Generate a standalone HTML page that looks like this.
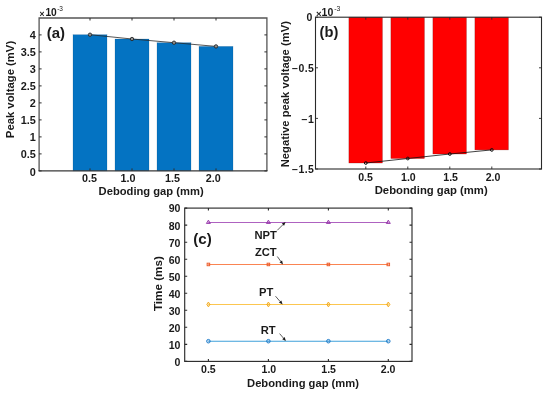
<!DOCTYPE html>
<html><head><meta charset="utf-8"><style>
html,body{margin:0;padding:0;background:#fff;width:550px;height:395px;overflow:hidden}
svg{display:block;filter:blur(0.3px)}
text{font-family:"Liberation Sans",Arial,sans-serif}
</style></head><body>
<svg width="550" height="395" viewBox="0 0 550 395">
<rect x="73" y="34.7" width="34" height="136.2" fill="#0473C2" stroke="#003a70" stroke-opacity="0.35" stroke-width="0.5"/>
<rect x="115" y="39.0" width="34" height="131.9" fill="#0473C2" stroke="#003a70" stroke-opacity="0.35" stroke-width="0.5"/>
<rect x="157" y="42.7" width="34" height="128.2" fill="#0473C2" stroke="#003a70" stroke-opacity="0.35" stroke-width="0.5"/>
<rect x="199" y="46.4" width="34" height="124.5" fill="#0473C2" stroke="#003a70" stroke-opacity="0.35" stroke-width="0.5"/>
<polyline points="90,34.7 132,39.0 174,42.7 216,46.4" fill="none" stroke="#2a2a2a" stroke-width="0.8"/>
<circle cx="90" cy="34.7" r="1.7" fill="#909090" stroke="#222" stroke-width="0.85"/>
<circle cx="132" cy="39.0" r="1.7" fill="#909090" stroke="#222" stroke-width="0.85"/>
<circle cx="174" cy="42.7" r="1.7" fill="#909090" stroke="#222" stroke-width="0.85"/>
<circle cx="216" cy="46.4" r="1.7" fill="#909090" stroke="#222" stroke-width="0.85"/>
<path d="M39.1 170.9V18.0H266.9V170.9" fill="none" stroke="#555" stroke-width="1.3"/>
<path d="M38.5 170.9H267.5" fill="none" stroke="#383838" stroke-width="1.4"/>
<path d="M39.1 170.9h2.5M266.9 170.9h-2.5M39.1 153.9h2.5M266.9 153.9h-2.5M39.1 136.9h2.5M266.9 136.9h-2.5M39.1 119.9h2.5M266.9 119.9h-2.5M39.1 102.9h2.5M266.9 102.9h-2.5M39.1 85.9h2.5M266.9 85.9h-2.5M39.1 68.9h2.5M266.9 68.9h-2.5M39.1 51.900000000000006h2.5M266.9 51.900000000000006h-2.5M39.1 34.900000000000006h2.5M266.9 34.900000000000006h-2.5M90 170.9v-2.5M90 18.0v2.5M132 170.9v-2.5M132 18.0v2.5M174 170.9v-2.5M174 18.0v2.5M216 170.9v-2.5M216 18.0v2.5" fill="none" stroke="#2e2e2e" stroke-width="1"/>
<text transform="translate(35.90 175.50) scale(1.09 1)" text-anchor="end" style="font-size:10px;font-weight:bold" fill="#1a1a1a">0</text>
<text transform="translate(35.90 158.40) scale(1.09 1)" text-anchor="end" style="font-size:10px;font-weight:bold" fill="#1a1a1a">0.5</text>
<text transform="translate(35.90 141.30) scale(1.09 1)" text-anchor="end" style="font-size:10px;font-weight:bold" fill="#1a1a1a">1</text>
<text transform="translate(35.90 124.20) scale(1.09 1)" text-anchor="end" style="font-size:10px;font-weight:bold" fill="#1a1a1a">1.5</text>
<text transform="translate(35.90 107.10) scale(1.09 1)" text-anchor="end" style="font-size:10px;font-weight:bold" fill="#1a1a1a">2</text>
<text transform="translate(35.90 90.00) scale(1.09 1)" text-anchor="end" style="font-size:10px;font-weight:bold" fill="#1a1a1a">2.5</text>
<text transform="translate(35.90 72.90) scale(1.09 1)" text-anchor="end" style="font-size:10px;font-weight:bold" fill="#1a1a1a">3</text>
<text transform="translate(35.90 55.80) scale(1.09 1)" text-anchor="end" style="font-size:10px;font-weight:bold" fill="#1a1a1a">3.5</text>
<text transform="translate(35.90 38.70) scale(1.09 1)" text-anchor="end" style="font-size:10px;font-weight:bold" fill="#1a1a1a">4</text>
<text transform="translate(89.40 182.20) scale(1.08 1)" text-anchor="middle" style="font-size:10px;font-weight:bold" fill="#1a1a1a">0.5</text>
<text transform="translate(128.00 182.20) scale(1.08 1)" text-anchor="middle" style="font-size:10px;font-weight:bold" fill="#1a1a1a">1.0</text>
<text transform="translate(172.40 182.20) scale(1.08 1)" text-anchor="middle" style="font-size:10px;font-weight:bold" fill="#1a1a1a">1.5</text>
<text transform="translate(213.20 182.20) scale(1.08 1)" text-anchor="middle" style="font-size:10px;font-weight:bold" fill="#1a1a1a">2.0</text>
<text transform="translate(151.10 194.60)" text-anchor="middle" style="font-size:11.2px;font-weight:bold" fill="#1a1a1a">Deboding gap (mm)</text>
<text transform="translate(14.10 89.50) rotate(-90)" text-anchor="middle" style="font-size:11.3px;font-weight:bold" fill="#1a1a1a">Peak voltage (mV)</text>
<text transform="translate(46.80 38.00) scale(1.07 1)" style="font-size:14px;font-weight:bold" fill="#1a1a1a">(a)</text>
<text transform="translate(39.40 16.80)" style="font-size:8.5px;font-weight:bold" fill="#1a1a1a">×</text>
<text transform="translate(45.40 15.70) scale(1.02 1)" style="font-size:10px;font-weight:bold" fill="#1a1a1a">10</text>
<text transform="translate(57.20 10.60)" style="font-size:6.5px;font-weight:normal" fill="#1a1a1a">-3</text>
<rect x="348.90000000000003" y="17.2" width="33.5" height="145.8" fill="#FF0000" stroke="#600" stroke-opacity="0.5" stroke-width="0.5"/>
<rect x="390.90000000000003" y="17.2" width="33.5" height="141.3" fill="#FF0000" stroke="#600" stroke-opacity="0.5" stroke-width="0.5"/>
<rect x="432.90000000000003" y="17.2" width="33.5" height="136.8" fill="#FF0000" stroke="#600" stroke-opacity="0.5" stroke-width="0.5"/>
<rect x="474.90000000000003" y="17.2" width="33.5" height="132.7" fill="#FF0000" stroke="#600" stroke-opacity="0.5" stroke-width="0.5"/>
<polyline points="365.8,163.0 407.8,158.5 449.8,154.0 491.8,149.9" fill="none" stroke="#111" stroke-width="0.8"/>
<circle cx="365.8" cy="163.0" r="1.4" fill="none" stroke="#111" stroke-width="1"/>
<circle cx="407.8" cy="158.5" r="1.4" fill="none" stroke="#111" stroke-width="1"/>
<circle cx="449.8" cy="154.0" r="1.4" fill="none" stroke="#111" stroke-width="1"/>
<circle cx="491.8" cy="149.9" r="1.4" fill="none" stroke="#111" stroke-width="1"/>
<rect x="315.5" y="17.2" width="226.0" height="151.8" fill="none" stroke="#2a2a2a" stroke-width="1.1"/>
<path d="M315.5 17.2h2.5M541.5 17.2h-2.5M315.5 67.8h2.5M541.5 67.8h-2.5M315.5 118.4h2.5M541.5 118.4h-2.5M315.5 169.0h2.5M541.5 169.0h-2.5M365.8 169.0v-2.5M365.8 17.2v2.5M407.8 169.0v-2.5M407.8 17.2v2.5M449.8 169.0v-2.5M449.8 17.2v2.5M491.8 169.0v-2.5M491.8 17.2v2.5" fill="none" stroke="#2a2a2a" stroke-width="0.9"/>
<text transform="translate(312.60 21.20) scale(1.05 1)" text-anchor="end" style="font-size:10px;font-weight:bold;letter-spacing:0.35px" fill="#1a1a1a">0</text>
<text transform="translate(314.20 71.60) scale(1.05 1)" text-anchor="end" style="font-size:10px;font-weight:bold;letter-spacing:0.35px" fill="#1a1a1a">−0.5</text>
<text transform="translate(314.20 122.80) scale(1.05 1)" text-anchor="end" style="font-size:10px;font-weight:bold;letter-spacing:0.35px" fill="#1a1a1a">−1</text>
<text transform="translate(314.20 173.30) scale(1.05 1)" text-anchor="end" style="font-size:10px;font-weight:bold;letter-spacing:0.35px" fill="#1a1a1a">−1.5</text>
<text transform="translate(365.50 180.60) scale(1.06 1)" text-anchor="middle" style="font-size:10px;font-weight:bold" fill="#1a1a1a">0.5</text>
<text transform="translate(408.40 180.60) scale(1.06 1)" text-anchor="middle" style="font-size:10px;font-weight:bold" fill="#1a1a1a">1.0</text>
<text transform="translate(450.60 180.60) scale(1.06 1)" text-anchor="middle" style="font-size:10px;font-weight:bold" fill="#1a1a1a">1.5</text>
<text transform="translate(493.00 180.60) scale(1.06 1)" text-anchor="middle" style="font-size:10px;font-weight:bold" fill="#1a1a1a">2.0</text>
<text transform="translate(431.20 193.80)" text-anchor="middle" style="font-size:11.3px;font-weight:bold" fill="#1a1a1a">Debonding gap (mm)</text>
<text transform="translate(289.30 94.20) rotate(-90)" text-anchor="middle" style="font-size:11.25px;font-weight:bold" fill="#1a1a1a">Negative peak voltage (mV)</text>
<text transform="translate(319.60 36.60) scale(1.05 1)" style="font-size:14px;font-weight:bold" fill="#1a1a1a">(b)</text>
<text transform="translate(315.90 16.90)" style="font-size:9.5px;font-weight:bold" fill="#1a1a1a">×</text>
<text transform="translate(321.60 16.00)" style="font-size:10.5px;font-weight:bold" fill="#1a1a1a">10</text>
<text transform="translate(334.20 10.90)" style="font-size:6.8px;font-weight:normal" fill="#1a1a1a">-3</text>
<path d="M208.4 222.45H388.3" stroke="#AE62C0" stroke-width="1.05" fill="none"/>
<path d="M208.4 220.15l2 3.3h-4z" fill="#9432A8" fill-opacity="0.3" stroke="#9432A8" stroke-width="0.9"/>
<path d="M268.4 220.15l2 3.3h-4z" fill="#9432A8" fill-opacity="0.3" stroke="#9432A8" stroke-width="0.9"/>
<path d="M328.4 220.15l2 3.3h-4z" fill="#9432A8" fill-opacity="0.3" stroke="#9432A8" stroke-width="0.9"/>
<path d="M388.3 220.15l2 3.3h-4z" fill="#9432A8" fill-opacity="0.3" stroke="#9432A8" stroke-width="0.9"/>
<path d="M208.4 264.45H388.3" stroke="#FA8452" stroke-width="1.05" fill="none"/>
<rect x="207.10" y="263.15" width="2.6" height="2.6" fill="#EC5A28" fill-opacity="0.3" stroke="#EC5A28" stroke-width="0.9"/>
<rect x="267.10" y="263.15" width="2.6" height="2.6" fill="#EC5A28" fill-opacity="0.3" stroke="#EC5A28" stroke-width="0.9"/>
<rect x="327.10" y="263.15" width="2.6" height="2.6" fill="#EC5A28" fill-opacity="0.3" stroke="#EC5A28" stroke-width="0.9"/>
<rect x="387.00" y="263.15" width="2.6" height="2.6" fill="#EC5A28" fill-opacity="0.3" stroke="#EC5A28" stroke-width="0.9"/>
<path d="M208.4 304.45H388.3" stroke="#FCC650" stroke-width="1.05" fill="none"/>
<path d="M208.4 302.05l1.6 2.4-1.6 2.4-1.6-2.4z" fill="#F2A818" fill-opacity="0.3" stroke="#F2A818" stroke-width="0.9"/>
<path d="M268.4 302.05l1.6 2.4-1.6 2.4-1.6-2.4z" fill="#F2A818" fill-opacity="0.3" stroke="#F2A818" stroke-width="0.9"/>
<path d="M328.4 302.05l1.6 2.4-1.6 2.4-1.6-2.4z" fill="#F2A818" fill-opacity="0.3" stroke="#F2A818" stroke-width="0.9"/>
<path d="M388.3 302.05l1.6 2.4-1.6 2.4-1.6-2.4z" fill="#F2A818" fill-opacity="0.3" stroke="#F2A818" stroke-width="0.9"/>
<path d="M208.4 341.20H388.3" stroke="#3FA0DA" stroke-width="1.05" fill="none"/>
<circle cx="208.4" cy="341.20" r="1.8" fill="#1A78C8" fill-opacity="0.25" stroke="#1A78C8" stroke-width="0.9"/>
<circle cx="268.4" cy="341.20" r="1.8" fill="#1A78C8" fill-opacity="0.25" stroke="#1A78C8" stroke-width="0.9"/>
<circle cx="328.4" cy="341.20" r="1.8" fill="#1A78C8" fill-opacity="0.25" stroke="#1A78C8" stroke-width="0.9"/>
<circle cx="388.3" cy="341.20" r="1.8" fill="#1A78C8" fill-opacity="0.25" stroke="#1A78C8" stroke-width="0.9"/>
<rect x="184.7" y="208.1" width="227.3" height="153.3" fill="none" stroke="#2c2c2c" stroke-width="1.15"/>
<path d="M184.7 361.4h2.5M412.0 361.4h-2.5M184.7 344.4h2.5M412.0 344.4h-2.5M184.7 327.3h2.5M412.0 327.3h-2.5M184.7 310.3h2.5M412.0 310.3h-2.5M184.7 293.3h2.5M412.0 293.3h-2.5M184.7 276.2h2.5M412.0 276.2h-2.5M184.7 259.2h2.5M412.0 259.2h-2.5M184.7 242.2h2.5M412.0 242.2h-2.5M184.7 225.1h2.5M412.0 225.1h-2.5M184.7 208.1h2.5M412.0 208.1h-2.5M208.4 361.4v-2.5M208.4 208.1v2.5M268.4 361.4v-2.5M268.4 208.1v2.5M328.4 361.4v-2.5M328.4 208.1v2.5M388.3 361.4v-2.5M388.3 208.1v2.5" fill="none" stroke="#2c2c2c" stroke-width="1.1"/>
<text transform="translate(180.50 366.10) scale(1.06 1)" text-anchor="end" style="font-size:10px;font-weight:bold" fill="#1a1a1a">0</text>
<text transform="translate(180.50 349.03) scale(1.06 1)" text-anchor="end" style="font-size:10px;font-weight:bold" fill="#1a1a1a">10</text>
<text transform="translate(180.50 331.95) scale(1.06 1)" text-anchor="end" style="font-size:10px;font-weight:bold" fill="#1a1a1a">20</text>
<text transform="translate(180.50 314.88) scale(1.06 1)" text-anchor="end" style="font-size:10px;font-weight:bold" fill="#1a1a1a">30</text>
<text transform="translate(180.50 297.81) scale(1.06 1)" text-anchor="end" style="font-size:10px;font-weight:bold" fill="#1a1a1a">40</text>
<text transform="translate(180.50 280.73) scale(1.06 1)" text-anchor="end" style="font-size:10px;font-weight:bold" fill="#1a1a1a">50</text>
<text transform="translate(180.50 263.66) scale(1.06 1)" text-anchor="end" style="font-size:10px;font-weight:bold" fill="#1a1a1a">60</text>
<text transform="translate(180.50 246.59) scale(1.06 1)" text-anchor="end" style="font-size:10px;font-weight:bold" fill="#1a1a1a">70</text>
<text transform="translate(180.50 229.51) scale(1.06 1)" text-anchor="end" style="font-size:10px;font-weight:bold" fill="#1a1a1a">80</text>
<text transform="translate(180.50 212.44) scale(1.06 1)" text-anchor="end" style="font-size:10px;font-weight:bold" fill="#1a1a1a">90</text>
<text transform="translate(208.40 372.60) scale(1.06 1)" text-anchor="middle" style="font-size:10px;font-weight:bold" fill="#1a1a1a">0.5</text>
<text transform="translate(268.90 372.60) scale(1.06 1)" text-anchor="middle" style="font-size:10px;font-weight:bold" fill="#1a1a1a">1.0</text>
<text transform="translate(328.60 372.60) scale(1.06 1)" text-anchor="middle" style="font-size:10px;font-weight:bold" fill="#1a1a1a">1.5</text>
<text transform="translate(388.10 372.60) scale(1.06 1)" text-anchor="middle" style="font-size:10px;font-weight:bold" fill="#1a1a1a">2.0</text>
<text transform="translate(303.00 387.00)" text-anchor="middle" style="font-size:11.2px;font-weight:bold" fill="#1a1a1a">Debonding gap (mm)</text>
<text transform="translate(161.60 283.60) rotate(-90)" text-anchor="middle" style="font-size:11.7px;font-weight:bold" fill="#1a1a1a">Time (ms)</text>
<text transform="translate(193.30 244.00) scale(1.08 1)" style="font-size:14px;font-weight:bold" fill="#1a1a1a">(c)</text>
<text transform="translate(254.40 239.00)" style="font-size:11.2px;font-weight:bold" fill="#1a1a1a">NPT</text>
<text transform="translate(254.90 255.90)" style="font-size:11.2px;font-weight:bold" fill="#1a1a1a">ZCT</text>
<text transform="translate(259.10 296.20)" style="font-size:11.2px;font-weight:bold" fill="#1a1a1a">PT</text>
<text transform="translate(260.70 333.70)" style="font-size:11.2px;font-weight:bold" fill="#1a1a1a">RT</text>
<path d="M277.3 230.3L282.91 224.69" stroke="#1a1a1a" stroke-width="0.7" fill="none"/>
<path d="M285.6 222.0L284.04 225.82L281.78 223.56z" fill="#1a1a1a"/>
<path d="M277.3 256.5L280.78 261.32" stroke="#1a1a1a" stroke-width="0.7" fill="none"/>
<path d="M283.0 264.4L279.48 262.25L282.07 260.38z" fill="#1a1a1a"/>
<path d="M275.5 296.2L280.11 301.53" stroke="#1a1a1a" stroke-width="0.7" fill="none"/>
<path d="M282.6 304.4L278.90 302.57L281.32 300.48z" fill="#1a1a1a"/>
<path d="M279.6 333.6L283.44 338.11" stroke="#1a1a1a" stroke-width="0.7" fill="none"/>
<path d="M285.9 341.0L282.22 339.14L284.65 337.07z" fill="#1a1a1a"/>
</svg>
</body></html>
